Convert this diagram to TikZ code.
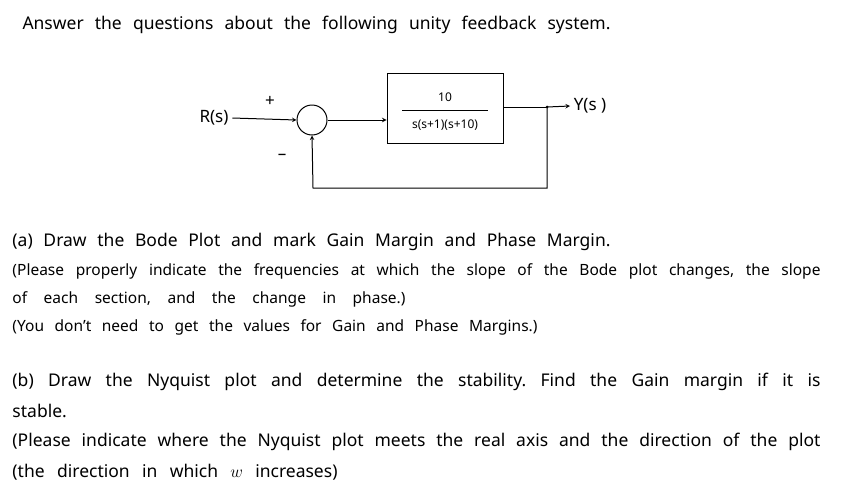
\documentclass[tikz,border=0pt]{standalone}
\usepackage{fontspec}
\setmainfont{Noto Sans}
\frenchspacing
\begin{document}
\begin{tikzpicture}[x=1pt,y=-1pt,line width=1pt,
  txt/.style={anchor=west,inner sep=0pt},
  big/.style={txt,font=\fontsize{17.5}{19}\selectfont},
  small/.style={txt,font=\fontsize{15.5}{17}\selectfont},
  hand/.style={font=\fontsize{17}{18}\selectfont},
  arr/.style={->,>=stealth}]
\useasboundingbox (0,0) rectangle (853,490);
\node[big] (t0) at (22,25) {\makebox[588pt][s]{Answer the questions about the following unity feedback system.}};
% block diagram
\node[hand] (R) at (214,118) {R(s)};
\node[circle,draw,minimum size=30pt,inner sep=0pt] (sum) at (312,120) {};
\node[draw,minimum width=116pt,minimum height=70pt,inner sep=0pt] (G) at (445,108) {};
\node[hand,font=\fontsize{12}{13}\selectfont] (num) at (445,97) {10};
\node[hand,font=\fontsize{12}{13}\selectfont] (den) at (445,125) {s(s+1)(s+10)};
\draw[line width=0.8pt] (402,110) -- (488,110);
\node[hand,anchor=west] (Y) at (570,106) {Y(s )};
\node[hand] (plus) at (270,101) {+};
\node[hand] (minus) at (282,157) {--};
\coordinate (br) at (547,107);
\coordinate (c1) at (547,188);
\coordinate (c2) at (313,188);
\draw[arr] (R.east) -- (sum.west);
\draw[arr] (sum.east) -- (G.west|-sum.east);
\draw (G.east|-br) -- (br);
\draw[arr] (br) -- (Y.west);
\fill (br) circle (1.5);
\draw[arr] (br) -- (c1) -- (c2) -- (sum.south);
% questions
\node[big] (a) at (12,242) {\makebox[598pt][s]{(a) Draw the Bode Plot and mark Gain Margin and Phase Margin.}};
\node[small] (a1) at (12,271) {\makebox[808pt][s]{(Please properly indicate the frequencies at which the slope of the Bode plot changes, the slope}};
\node[small] (a2) at (12,299) {\makebox[393pt][s]{of each section, and the change in phase.)}};
\node[small] (a3) at (12,327) {\makebox[525pt][s]{(You don't need to get the values for Gain and Phase Margins.)}};
\node[big] (b) at (12,382) {\makebox[808pt][s]{(b) Draw the Nyquist plot and determine the stability. Find the Gain margin if it is}};
\node[big] (b1) at (12,411) {stable.};
\node[big] (b2) at (12,442) {\makebox[808pt][s]{(Please indicate where the Nyquist plot meets the real axis and the direction of the plot}};
\node[big] (b3) at (12,472) {\makebox[325pt][s]{(the direction in which $w$ increases)}};
\end{tikzpicture}
\end{document}
